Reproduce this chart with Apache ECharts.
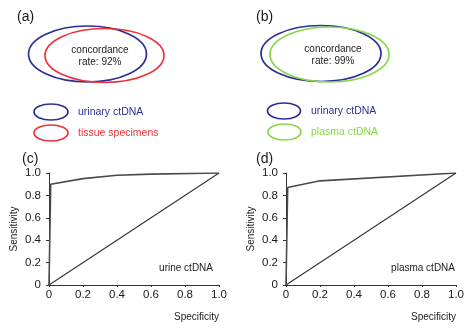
<!DOCTYPE html>
<html><head><meta charset="utf-8">
<script src="https://cdn.jsdelivr.net/npm/echarts@6/dist/echarts.min.js"></script>
<style>html,body{margin:0;padding:0;background:#fff}#c{width:474px;height:332px}</style>
</head><body><div id="c"></div>
<script>
// ROC data: [specificity axis value, sensitivity]
const rocUrine = [[0,0],[0.01,0.9],[0.2,0.95],[0.4,0.98],[0.6,0.99],[1.0,1.0]];
const rocPlasma = [[0,0],[0.01,0.87],[0.2,0.93],[1.0,1.0]];
const chanceLine = [[0,0],[1,1]];
const xTicks = ['0','0.2','0.4','0.6','0.8','1.0'];
const yTicks = ['0','0.2','0.4','0.6','0.8','1.0'];
const concordanceA = '92%';
const concordanceB = '99%';
const legendA = ['urinary ctDNA','tissue specimens'];
const legendB = ['urinary ctDNA','plasma ctDNA'];
const rocLabels = ['urine ctDNA','plasma ctDNA'];

const BLUE='#2b2f96', RED='#ee3338', GREEN='#86d84a', INK='#1a1a1a';
const FONT='Liberation Sans, Arial, sans-serif';
const chart = echarts.init(document.getElementById('c'));

function fmt(v){ return v===0?'0':v.toFixed(1); }
function xAx(i){return {type:'value',gridIndex:i,min:0,max:1,interval:0.2,
  axisLine:{lineStyle:{color:'#333',width:1}},axisTick:{show:true,length:2,lineStyle:{color:'#333'}},
  splitLine:{show:false},axisLabel:{formatter:fmt,color:INK,fontSize:11.5,fontFamily:FONT,margin:4}};}
function yAx(i){return {type:'value',gridIndex:i,min:0,max:1,interval:0.2,name:'Sensitivity',nameLocation:'middle',nameGap:30,
  nameTextStyle:{color:INK,fontSize:10,fontFamily:FONT},
  axisLine:{show:true,lineStyle:{color:'#333',width:1}},axisTick:{show:true,length:3,lineStyle:{color:'#333'}},
  splitLine:{show:false},axisLabel:{formatter:fmt,color:INK,fontSize:11.5,fontFamily:FONT,margin:8}};}
function line(data,i,w,c){return {type:'line',xAxisIndex:i,yAxisIndex:i,data:data,symbol:'none',smooth:false,
  lineStyle:{color:c,width:w},animation:false};}

function ell(cx,cy,rx,ry,color,w){return {type:'ellipse',shape:{cx:cx,cy:cy,rx:rx,ry:ry},
  style:{fill:'none',stroke:color,lineWidth:w}};}
function txt(x,y,t,o){return {type:'text',x:x,y:y,style:Object.assign({text:t,fill:INK,font:'10px '+FONT,textAlign:'left',textVerticalAlign:'middle'},o||{})};}

chart.setOption({
  animation:false,
  grid:[{left:49,top:173,width:170,height:112},{left:286,top:173,width:170,height:112}],
  xAxis:[xAx(0),xAx(1)],
  yAxis:[yAx(0),yAx(1)],
  series:[line(rocUrine,0,1.6,'#4a4a4a'),line(chanceLine,0,1.1,'#333'),line(rocPlasma,1,1.6,'#4a4a4a'),line(chanceLine,1,1.1,'#333')],
  graphic:[
    txt(17,17,'(a)',{font:'14px '+FONT}),
    ell(87.5,54,59,28,BLUE,1.7),
    ell(104.5,55.5,59.5,27,RED,1.7),
    txt(100,50,'concordance',{textAlign:'center'}),
    txt(100,62,'rate: '+concordanceA,{textAlign:'center'}),
    ell(51,112,17,8,BLUE,1.7),
    ell(51,133,17,8,RED,1.7),
    txt(78,112,legendA[0],{fill:BLUE,font:'10.5px '+FONT}),
    txt(78,133,legendA[1],{fill:RED,font:'10.5px '+FONT}),

    txt(256,17,'(b)',{font:'14px '+FONT}),
    ell(321,53.5,60,28,BLUE,1.7),
    ell(329.5,54.5,59.5,27.5,GREEN,1.7),
    txt(333,49,'concordance',{textAlign:'center'}),
    txt(333,61,'rate: '+concordanceB,{textAlign:'center'}),
    ell(284,111,16.5,8,BLUE,1.7),
    ell(284.5,132,16.5,8,GREEN,1.7),
    txt(311,111,legendB[0],{fill:BLUE,font:'10.5px '+FONT}),
    txt(311,132,legendB[1],{fill:GREEN,font:'10.5px '+FONT}),

    txt(22,159,'(c)',{font:'14px '+FONT}),
    txt(256,159,'(d)',{font:'14px '+FONT}),
    txt(213,268,rocLabels[0],{textAlign:'right'}),
    txt(455,268,rocLabels[1],{textAlign:'right'}),
    txt(219,317,'Specificity',{textAlign:'right'}),
    txt(456,317,'Specificity',{textAlign:'right'})
  ]
});
</script></body></html>
